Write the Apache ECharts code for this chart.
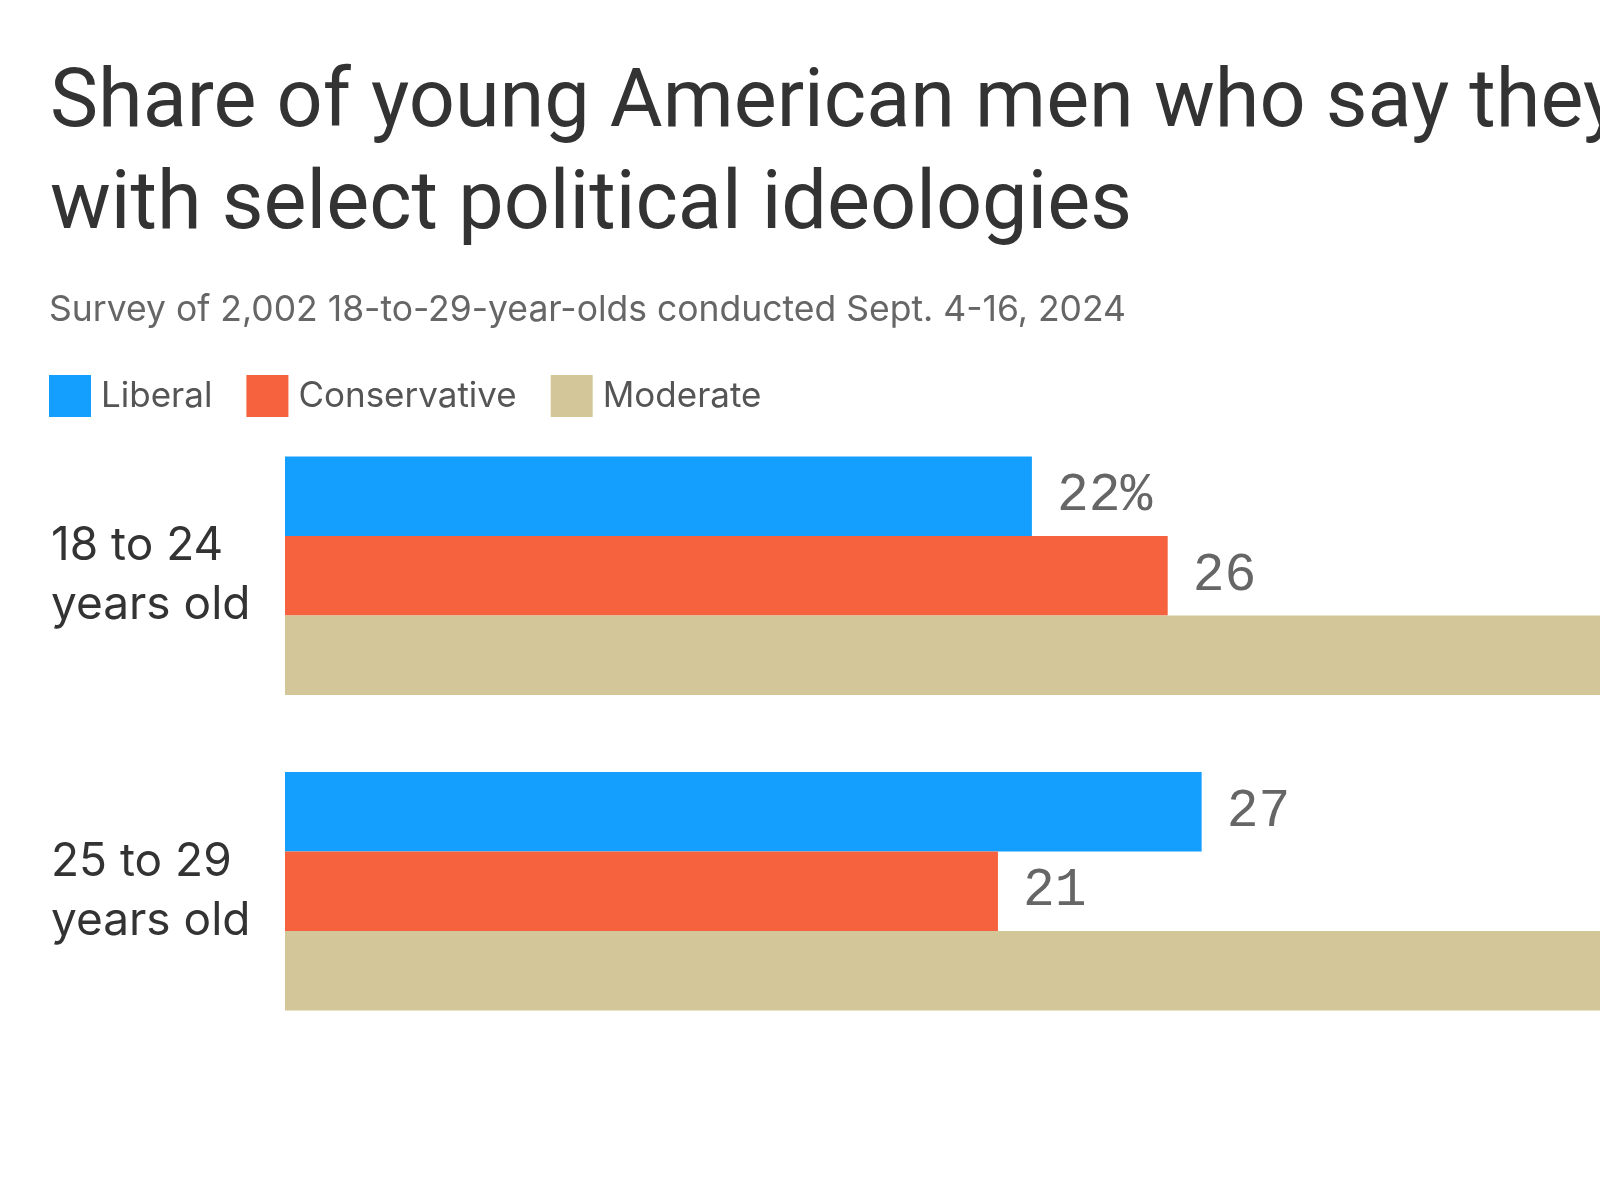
<!DOCTYPE html>
<html><head><meta charset="utf-8">
<script src="https://cdn.jsdelivr.net/npm/echarts@6/dist/echarts.min.js"></script>
<style>html,body{margin:0;padding:0;background:#fff;overflow:hidden}#c{width:1600px;height:1200px}</style>
</head><body><div id="c"></div>
<script>
const titleText = "Share of young American men who say they identify\nwith select political ideologies";
const subtitleText = "Survey of 2,002 18-to-29-year-olds conducted Sept. 4-16, 2024";
const categories = ["18 to 24\nyears old", "25 to 29\nyears old"];
const seriesNames = ["Liberal", "Conservative", "Moderate"];
const liberal = [22, 27];
const conservative = [26, 21];
const moderate = [41, 42];
const colors = ["#149fff", "#f6623d", "#d3c799"];

const chart = echarts.init(document.getElementById('c'));
const pxPerUnit = 33.95;
const xMax = 50;
const valueSets = [liberal, conservative, moderate];

chart.setOption({
  backgroundColor: '#fff',
  animation: false,
  title: [
    { text: titleText, left: 45, top: 50,
      textStyle: { fontFamily: 'Roboto', fontSize: 81, fontWeight: 400, color: '#333', lineHeight: 102 } },
    { text: subtitleText, left: 44, top: 287,
      textStyle: { fontFamily: 'Inter', fontSize: 35.5, fontWeight: 400, color: '#666' } }
  ],
  legend: {
    data: seriesNames, left: 44, top: 370, icon: 'rect',
    itemWidth: 42, itemHeight: 42, itemGap: 34,
    textStyle: { fontFamily: 'Inter', fontSize: 35, color: '#555', padding: [0, 0, 0, 5] }
  },
  grid: { left: 285, top: 418, width: xMax * pxPerUnit, height: 631, containLabel: false, outerBoundsMode: 'none' },
  xAxis: { type: 'value', min: 0, max: xMax, show: false, splitLine: { show: false } },
  yAxis: {
    type: 'category', data: categories, inverse: true,
    axisLine: { show: false }, axisTick: { show: false },
    axisLabel: { align: 'left', margin: 234, fontFamily: 'Inter', fontSize: 46, color: '#333', lineHeight: 59 }
  },
  series: seriesNames.map((name, si) => ({
    name, type: 'bar', data: valueSets[si], barWidth: 79.5, barGap: '0%',
    itemStyle: { color: colors[si] },
    label: {
      show: true, position: 'right', distance: 25,
      fontFamily: 'Liberation Mono', fontSize: 53, color: '#666',
      formatter: p => (si === 0 && p.dataIndex === 0) ? p.value + '%' : String(p.value)
    }
  }))
});
</script></body></html>
